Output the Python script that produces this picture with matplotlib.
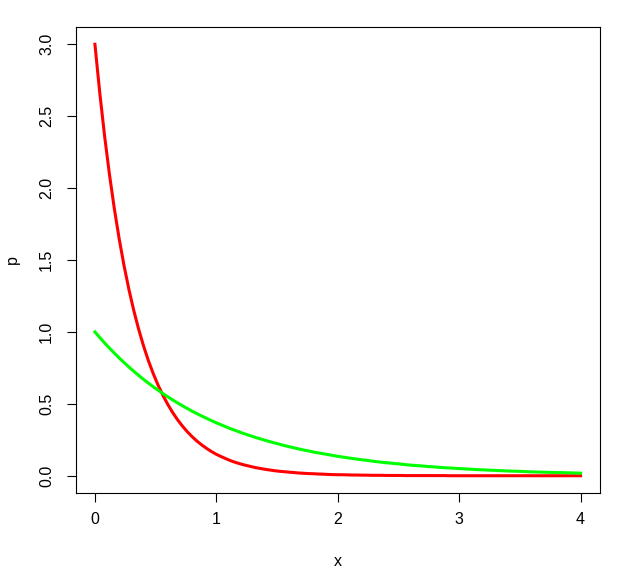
import matplotlib
matplotlib.use("Agg")
import matplotlib.pyplot as plt

# x grid (step 0.04)
x_vals = [round(i * 0.04, 2) for i in range(101)]

# red curve values
red_p = [3.000, 2.661, 2.360, 2.093, 1.856, 1.646, 1.460, 1.295, 1.149, 1.019,
         0.904, 0.801, 0.711, 0.630, 0.559, 0.496, 0.440, 0.390, 0.346, 0.307,
         0.272, 0.241, 0.214, 0.190, 0.168, 0.149, 0.133, 0.118, 0.104, 0.092,
         0.082, 0.073, 0.065, 0.057, 0.051, 0.045, 0.040, 0.035, 0.031, 0.028,
         0.025, 0.022, 0.019, 0.017, 0.015, 0.014, 0.012, 0.011, 0.009, 0.008,
         0.007, 0.007, 0.006, 0.005, 0.005, 0.004, 0.004, 0.003, 0.003, 0.003,
         0.002, 0.002, 0.002, 0.002, 0.001, 0.001, 0.001, 0.001, 0.001, 0.001,
         0.001, 0.001, 0.001, 0.000, 0.000, 0.000, 0.000, 0.000, 0.000, 0.000,
         0.000, 0.000, 0.000, 0.000, 0.000, 0.000, 0.000, 0.000, 0.000, 0.000,
         0.000, 0.000, 0.000, 0.000, 0.000, 0.000, 0.000, 0.000, 0.000, 0.000,
         0.000]

# green curve values
green_p = [1.000, 0.961, 0.923, 0.887, 0.852, 0.819, 0.787, 0.756, 0.726, 0.698,
           0.670, 0.644, 0.619, 0.595, 0.571, 0.549, 0.527, 0.507, 0.487, 0.468,
           0.449, 0.432, 0.415, 0.399, 0.383, 0.368, 0.354, 0.340, 0.326, 0.314,
           0.301, 0.289, 0.278, 0.267, 0.257, 0.247, 0.237, 0.228, 0.219, 0.210,
           0.202, 0.194, 0.186, 0.179, 0.172, 0.165, 0.159, 0.153, 0.147, 0.141,
           0.135, 0.130, 0.125, 0.120, 0.115, 0.111, 0.107, 0.102, 0.098, 0.094,
           0.091, 0.087, 0.084, 0.081, 0.077, 0.074, 0.071, 0.069, 0.066, 0.063,
           0.061, 0.058, 0.056, 0.054, 0.052, 0.050, 0.048, 0.046, 0.044, 0.042,
           0.041, 0.039, 0.038, 0.036, 0.035, 0.033, 0.032, 0.031, 0.030, 0.028,
           0.027, 0.026, 0.025, 0.024, 0.023, 0.022, 0.022, 0.021, 0.020, 0.019,
           0.018]

x_ticks = [0, 1, 2, 3, 4]
y_ticks = [0.0, 0.5, 1.0, 1.5, 2.0, 2.5, 3.0]
y_tick_labels = ["0.0", "0.5", "1.0", "1.5", "2.0", "2.5", "3.0"]

plt.rcParams['font.family'] = ['Liberation Sans', 'DejaVu Sans']

fig = plt.figure(figsize=(6.28, 5.81), dpi=100)
ax = fig.add_axes([75.5 / 628, 88 / 581, 524.5 / 628, 466 / 581])

ax.plot(x_vals, red_p, color='#FF0000', lw=2.2, solid_joinstyle='miter')
ax.plot(x_vals, green_p, color='#00FF00', lw=2.2, solid_joinstyle='miter')

ax.set_xlim(-0.16, 4.16)
ax.set_ylim(-0.12, 3.12)

ax.set_xticks(x_ticks)
ax.set_xticklabels([str(t) for t in x_ticks])
ax.set_yticks(y_ticks)
ax.set_yticklabels(y_tick_labels, rotation=90, va='center')

ax.tick_params(axis='both', direction='out', length=6.5, width=0.8,
               labelsize=11.5, color='black')
ax.tick_params(axis='x', pad=7)
ax.tick_params(axis='y', pad=9)

for s in ax.spines.values():
    s.set_linewidth(0.8)
    s.set_color('black')

ax.set_xlabel('x', fontsize=11.5)
ax.set_ylabel('p', fontsize=11.5)
ax.xaxis.label.set_va('center')
ax.yaxis.label.set_va('center')
ax.xaxis.set_label_coords(0.5, -69 / 466)
ax.yaxis.set_label_coords(-63.5 / 524.5, 0.5)

fig.savefig('out.png', dpi=100)
